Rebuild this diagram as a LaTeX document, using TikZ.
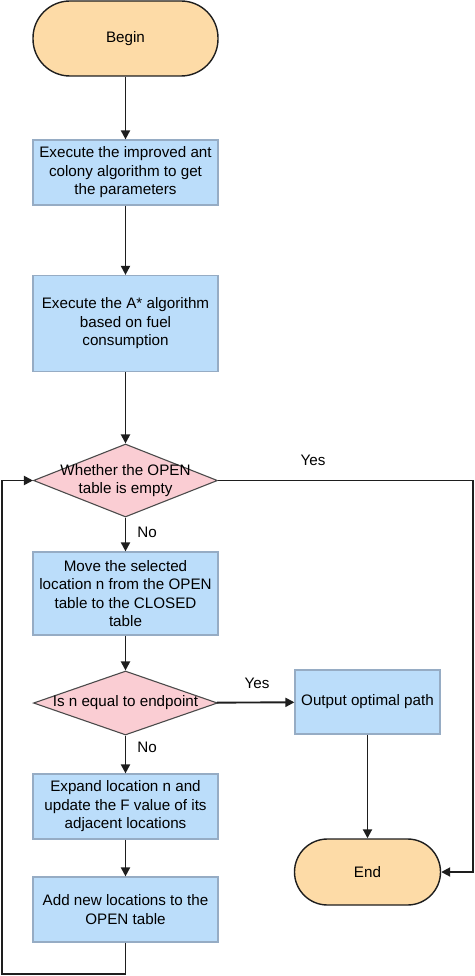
\documentclass[tikz,border=0pt]{standalone}
\usepackage{fontspec}
\setmainfont{Liberation Sans}
\usetikzlibrary{arrows.meta,shapes.geometric}
\definecolor{termfill}{RGB}{253,219,167}
\definecolor{boxfill}{RGB}{187,221,250}
\definecolor{boxline}{RGB}{150,172,196}
\definecolor{diafill}{RGB}{250,205,211}
\definecolor{lncol}{RGB}{30,30,30}
\begin{document}
\begin{tikzpicture}[x=1pt,y=-1pt,
  every node/.style={font=\fontsize{15.2}{18.5}\selectfont, text=black},
  term/.style={draw=lncol, line width=1.4pt, fill=termfill, rectangle, rounded corners=37pt, minimum height=75pt, inner sep=0pt},
  procbox/.style={draw=boxline, line width=1.2pt, fill=boxfill, rectangle, inner sep=0pt, align=center},
  deci/.style={draw=lncol!80, line width=1.1pt, fill=diafill, diamond, inner sep=0pt, minimum width=184pt, aspect=2.5},
  conn/.style={draw=lncol, line width=1.9pt, -{Triangle[length=9pt,width=9pt]}},
  lab/.style={inner sep=0pt}
]
\useasboundingbox (0,0) rectangle (474,976);

\node[term, minimum width=185pt] (begin) at (125.5,38.5) {Begin};
\node[procbox, minimum width=185pt, minimum height=65pt] (b1) at (125.5,172.5) {Execute the improved ant\\colony algorithm to get\\the parameters};
\node[procbox, minimum width=185pt, minimum height=96pt] (b2) at (125.5,323.5) {Execute the A* algorithm\\based on fuel\\consumption};
\node[deci, minimum height=73pt] (d1) at (125.5,480.5) {};
\node[lab, align=center] (d1t) at (125.5,480.5) {Whether the OPEN\\table is empty};
\node[procbox, minimum width=185pt, minimum height=83pt] (b3) at (125.5,593.5) {Move the selected\\location n from the OPEN\\table to the CLOSED\\table};
\node[deci, minimum height=64pt] (d2) at (125.5,703) {};
\node[lab] (d2t) at (125.5,702.5) {Is n equal to endpoint};
\node[procbox, minimum width=145pt, minimum height=64pt] (b4) at (367.5,702) {Output optimal path};
\node[procbox, minimum width=185pt, minimum height=65pt] (b5) at (125.5,806.5) {Expand location n and\\update the F value of its\\adjacent locations};
\node[procbox, minimum width=185pt, minimum height=65pt] (b6) at (125.5,909.5) {Add new locations to the\\OPEN table};
\node[term, minimum width=146pt, minimum height=66pt, rounded corners=33pt] (end) at (367.5,872) {End};

\node[lab] (yes1) at (313,460) {Yes};
\node[lab] (no1) at (147,532) {No};
\node[lab] (yes2) at (257,683) {Yes};
\node[lab] (no2) at (147,747) {No};

\coordinate (rtop) at (473,480.5);
\coordinate (rbot) at (473,872);
\coordinate (lbot) at (2,974);
\coordinate (ltop) at (2,480.5);
\coordinate (cbot) at (125.5,974);

\draw[conn] (begin) -- (b1);
\draw[conn] (b1) -- (b2);
\draw[conn] (b2) -- (d1);
\draw[conn] (d1) -- (b3);
\draw[conn] (b3) -- (d2);
\draw[conn] (d2) -- (b5);
\draw[conn] (b5) -- (b6);
\draw[conn] (d2) -- (b4);
\draw[conn] (b4) -- (end);
\draw[conn] (d1.east) -- (rtop) -- (rbot) -- (end.east);
\draw[conn] (b6.south) -- (cbot) -- (lbot) -- (ltop) -- (d1.west);
\end{tikzpicture}
\end{document}
